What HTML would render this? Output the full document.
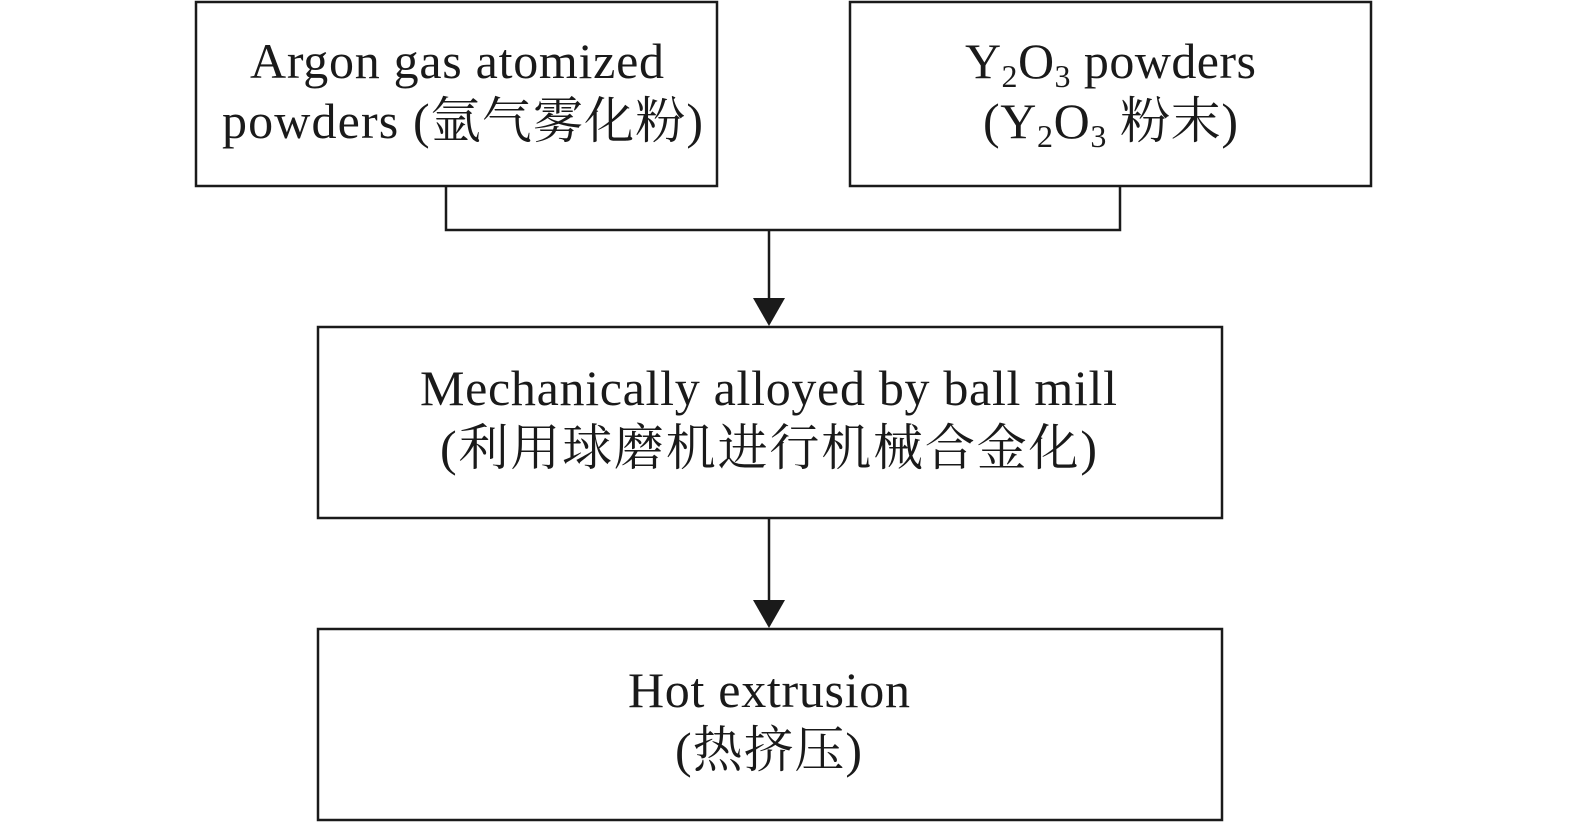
<!DOCTYPE html>
<html><head><meta charset="utf-8"><style>
html,body{margin:0;padding:0;background:#fff;}
svg{display:block;}
text{font-family:"Liberation Serif","Noto Serif CJK SC",serif;font-size:50px;fill:#1a1a1a;}
</style></head><body>
<svg width="1575" height="825" viewBox="0 0 1575 825" xmlns="http://www.w3.org/2000/svg">
<g fill="none" stroke="#1a1a1a" stroke-width="2.5">
<rect x="196" y="2" width="521" height="184"/>
<rect x="850" y="2" width="521" height="184"/>
<rect x="318" y="327" width="904" height="191"/>
<rect x="318" y="629" width="904" height="191"/>
<polyline points="446,186 446,230 1120,230 1120,186"/>
<line x1="769" y1="230" x2="769" y2="300"/>
<line x1="769" y1="518" x2="769" y2="602"/>
</g>
<polygon points="753,298 785,298 769,326" fill="#1a1a1a"/>
<polygon points="753,600 785,600 769,628" fill="#1a1a1a"/>
<text x="250" y="78" textLength="414" lengthAdjust="spacing">Argon gas atomized</text>
<text x="222" y="138" textLength="481" lengthAdjust="spacing">powders (氩气雾化粉)</text>
<text x="965" y="78" textLength="291" lengthAdjust="spacing">Y<tspan font-size="32" dy="9">2</tspan><tspan dy="-9">O</tspan><tspan font-size="32" dy="9">3</tspan><tspan dy="-9"> powders</tspan></text>
<text x="983" y="138" textLength="255" lengthAdjust="spacing">(Y<tspan font-size="32" dy="9">2</tspan><tspan dy="-9">O</tspan><tspan font-size="32" dy="9">3</tspan><tspan dy="-9"> 粉末)</tspan></text>
<text x="420" y="405" textLength="697" lengthAdjust="spacing">Mechanically alloyed by ball mill</text>
<text x="440" y="465" textLength="657" lengthAdjust="spacing">(利用球磨机进行机械合金化)</text>
<text x="628" y="707" textLength="282" lengthAdjust="spacing">Hot extrusion</text>
<text x="675" y="767" textLength="187" lengthAdjust="spacing">(热挤压)</text>
</svg>
</body></html>
